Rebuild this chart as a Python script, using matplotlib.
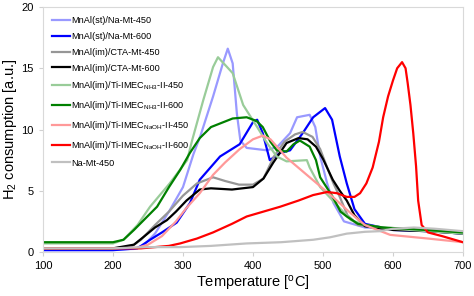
import matplotlib.pyplot as plt

# temperature [C] / H2 consumption [a.u.]
t_st450 = [100, 200, 230, 245, 260, 280, 300, 315, 325, 343, 357, 364, 371, 377, 382, 391, 420, 435, 453, 463, 481, 489, 496, 506, 515, 530, 560, 600, 650, 700]
h_st450 = [0.2, 0.2, 0.25, 0.6, 1.5, 3.3, 5.3, 8.0, 9.5, 12.7, 15.4, 16.6, 15.4, 11.3, 9.1, 8.5, 8.3, 8.6, 9.7, 11.0, 11.2, 10.2, 7.8, 5.6, 4.0, 2.5, 2.0, 1.9, 1.8, 1.5]

t_st600 = [100, 200, 235, 253, 270, 291, 310, 324, 353, 381, 400, 406, 414, 424, 439, 453, 471, 486, 503, 513, 524, 534, 545, 560, 600, 650, 700]
h_st600 = [0.15, 0.15, 0.3, 1.0, 1.6, 2.4, 4.0, 5.9, 7.8, 8.8, 10.6, 10.8, 9.7, 7.5, 8.1, 8.3, 9.7, 11.0, 11.75, 10.8, 7.8, 5.6, 3.5, 2.3, 1.8, 1.7, 1.5]

t_cta450 = [100, 200, 225, 240, 260, 280, 300, 320, 343, 360, 380, 400, 415, 430, 445, 460, 471, 485, 496, 506, 515, 524, 535, 550, 600, 650, 700]
h_cta450 = [0.3, 0.3, 0.4, 1.0, 2.2, 3.3, 4.6, 5.6, 6.1, 5.8, 5.5, 5.5, 6.0, 7.8, 9.0, 9.6, 9.8, 9.4, 8.4, 6.9, 5.6, 4.5, 3.0, 2.2, 1.9, 1.8, 1.6]

t_cta600 = [100, 200, 230, 243, 260, 277, 290, 305, 324, 340, 370, 400, 415, 429, 448, 465, 478, 490, 500, 514, 524, 534, 545, 560, 600, 650, 700]
h_cta600 = [0.3, 0.3, 0.6, 1.2, 2.0, 2.6, 3.3, 4.2, 5.1, 5.2, 5.1, 5.3, 6.0, 7.3, 8.9, 9.3, 9.2, 8.6, 7.6, 5.9, 5.0, 4.2, 3.0, 2.1, 1.8, 1.7, 1.5]

t_nh3_450 = [100, 200, 215, 235, 253, 281, 306, 313, 329, 343, 350, 363, 371, 386, 406, 420, 434, 448, 477, 481, 496, 514, 540, 560, 600, 650, 700]
h_nh3_450 = [0.7, 0.7, 1.0, 2.2, 3.7, 5.6, 7.5, 9.1, 12.4, 15.1, 15.9, 15.1, 14.6, 12.0, 10.2, 8.9, 7.8, 7.4, 7.5, 6.9, 5.3, 4.2, 2.6, 2.2, 1.9, 1.7, 1.5]

t_nh3_600 = [100, 200, 215, 230, 263, 280, 296, 310, 324, 340, 371, 391, 405, 414, 425, 434, 448, 458, 467, 481, 490, 496, 514, 525, 534, 550, 586, 620, 700]
h_nh3_600 = [0.8, 0.8, 1.0, 1.8, 3.7, 5.3, 6.7, 8.1, 9.3, 10.2, 10.9, 11.0, 10.7, 10.2, 9.0, 8.3, 8.2, 8.8, 9.1, 8.6, 7.5, 6.1, 4.5, 3.3, 2.9, 2.3, 2.0, 1.9, 1.6]

t_naoh450 = [100, 200, 235, 250, 270, 290, 305, 324, 343, 360, 381, 400, 414, 425, 448, 481, 514, 539, 560, 596, 650, 700]
h_naoh450 = [0.3, 0.3, 0.35, 0.6, 1.3, 2.5, 3.6, 4.8, 6.3, 7.3, 8.4, 9.2, 9.5, 9.2, 7.7, 6.1, 4.5, 3.2, 2.2, 1.4, 1.1, 0.8]

t_naoh600 = [100, 200, 240, 260, 280, 296, 320, 343, 370, 391, 415, 439, 465, 486, 506, 520, 534, 545, 553, 562, 571, 580, 586, 593, 600, 606, 613, 618, 621, 625, 629, 633, 636, 641, 650, 670, 700]
h_naoh600 = [0.3, 0.3, 0.3, 0.4, 0.5, 0.7, 1.1, 1.6, 2.3, 2.9, 3.3, 3.7, 4.2, 4.65, 4.9, 4.8, 4.5, 4.5, 4.8, 5.6, 6.9, 9.0, 11.0, 12.7, 14.0, 15.0, 15.5, 15.0, 13.8, 12.0, 9.7, 7.0, 4.2, 2.2, 1.6, 1.3, 0.8]

t_namt = [100, 200, 250, 296, 340, 391, 440, 486, 510, 534, 560, 581, 600, 630, 660, 700]
h_namt = [0.3, 0.3, 0.4, 0.4, 0.5, 0.7, 0.8, 1.0, 1.2, 1.5, 1.65, 1.7, 1.9, 2.0, 1.9, 1.7]

plt.rcParams['font.family'] = ['Liberation Sans', 'DejaVu Sans']

fig = plt.figure(figsize=(4.74, 2.96), dpi=100)
ax = fig.add_axes([0.0907, 0.1486, 0.886, 0.8277])

lw = 1.6
ax.plot(t_st450, h_st450, color='#9999FF', lw=lw, label='MnAl(st)/Na-Mt-450')
ax.plot(t_st600, h_st600, color='#0000FF', lw=lw, label='MnAl(st)/Na-Mt-600')
ax.plot(t_cta450, h_cta450, color='#969696', lw=lw, label='MnAl(im)/CTA-Mt-450')
ax.plot(t_cta600, h_cta600, color='#000000', lw=lw, label='MnAl(im)/CTA-Mt-600')
ax.plot(t_nh3_450, h_nh3_450, color='#99CC99', lw=lw, label=r'MnAl(im)/Ti-IMEC$\mathregular{_{NH3}}$-II-450')
ax.plot(t_nh3_600, h_nh3_600, color='#008000', lw=lw, label=r'MnAl(im)/Ti-IMEC$\mathregular{_{NH3}}$-II-600')
ax.plot(t_naoh450, h_naoh450, color='#FF9999', lw=lw, label=r'MnAl(im)/Ti-IMEC$\mathregular{_{NaOH}}$-II-450')
ax.plot(t_naoh600, h_naoh600, color='#FF0000', lw=lw, label=r'MnAl(im)/Ti-IMEC$\mathregular{_{NaOH}}$-II-600')
ax.plot(t_namt, h_namt, color='#C0C0C0', lw=lw, label='Na-Mt-450')

ax.set_xlim(100, 700)
ax.set_ylim(0, 20)
ax.set_xticks(range(100, 701, 100))
ax.set_yticks(range(0, 21, 5))
ax.tick_params(labelsize=8, color='#D0D0D0', length=3, width=0.8)
for s in ax.spines.values():
    s.set_color('#D9D9D9')
    s.set_linewidth(0.8)

ax.set_xlabel(r'Temperature [$\mathregular{^{o}}$C]', fontsize=10.5, labelpad=2)
ax.set_ylabel(r'H$\mathregular{_2}$ consumption [a.u.]', fontsize=10.5)
ax.yaxis.set_label_coords(-0.058, 0.5)

ax.legend(loc='upper left', frameon=False, fontsize=6.6, handlelength=1.9,
          handletextpad=0.15, labelspacing=0.74, borderaxespad=0.0,
          borderpad=0.0, bbox_to_anchor=(0.022, 0.962))

fig.savefig('out.png', dpi=100)
